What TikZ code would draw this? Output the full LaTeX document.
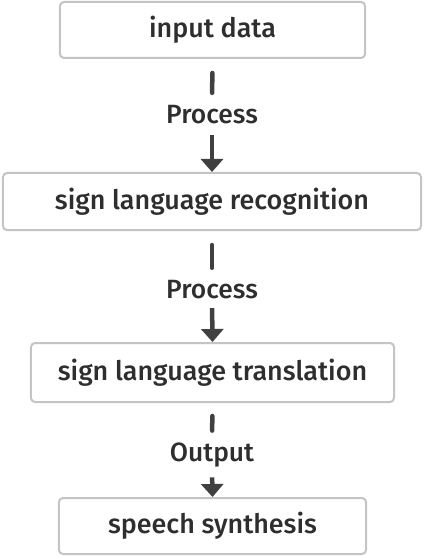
\documentclass[tikz,border=0pt]{standalone}
\usepackage{fontspec}
\setmainfont{Fira Sans Medium}
\usetikzlibrary{arrows.meta}
\definecolor{boxline}{HTML}{C4C4C4}
\definecolor{ink}{HTML}{2E2E2E}
\definecolor{arrowc}{HTML}{404040}
\tikzset{
  stepbox/.style={draw=boxline, line width=2bp, rounded corners=4bp, fill=white,
    inner sep=0pt, text=ink, font=\fontsize{27}{30}\selectfont},
  lbl/.style={inner sep=0pt, minimum height=20bp, text=ink, font=\fontsize{26.5}{29}\selectfont},
  seg/.style={draw=arrowc, line width=4.5bp, line cap=round},
  arr/.style={draw=arrowc, line width=4.5bp, -{Triangle[width=22bp,length=13bp]}},
}
\begin{document}
\begin{tikzpicture}[x=1bp,y=-1bp]
\useasboundingbox (0,0) rectangle (424,557);
\node[stepbox, minimum width=305bp, minimum height=56bp] (b1) at (212.5,30) {input data};
\node[stepbox, minimum width=418bp, minimum height=57bp] (b2) at (212,201.5) {sign language recognition};
\node[stepbox, minimum width=363bp, minimum height=59bp] (b3) at (212.5,372.5) {sign language translation};
\node[stepbox, minimum width=307bp, minimum height=56bp] (b4) at (212.5,526) {speech synthesis};
\node[lbl] (l1) at (212,115) {Process};
\node[lbl] (l2) at (212,290) {Process};
\node[lbl] (l3) at (212,455) {Output};
\draw[seg, shorten <=14bp, shorten >=12bp] (b1.south) -- (l1.north);
\draw[arr, shorten <=10bp] (l1.south) -- (b2.north);
\draw[seg, shorten <=14bp, shorten >=12bp] (b2.south) -- (l2.north);
\draw[arr, shorten <=8bp] (l2.south) -- (b3.north);
\draw[seg, shorten <=13bp, shorten >=12bp] (b3.south) -- (l3.north);
\draw[arr, shorten <=10bp] (l3.south) -- (b4.north);
\end{tikzpicture}
\end{document}
